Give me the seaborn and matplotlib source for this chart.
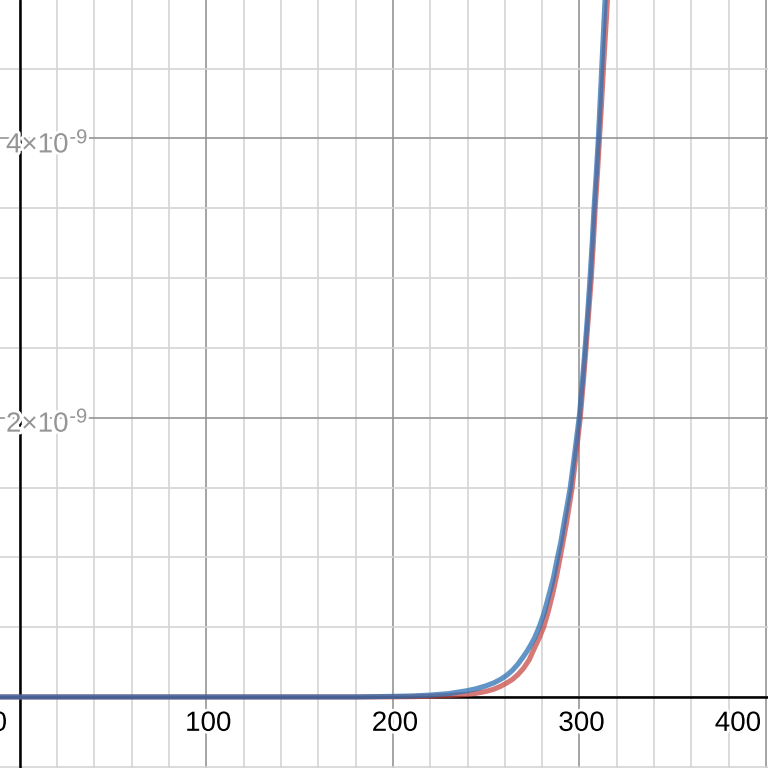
import matplotlib
matplotlib.use("Agg")
import matplotlib.pyplot as plt
import matplotlib.patheffects as pe
from matplotlib.ticker import MultipleLocator
import seaborn as sns
import pandas as pd

# values (y in units of 1e-9)
blue_x = [-12, 0, 100, 180, 200, 210, 220, 230, 240, 245, 250, 254, 258, 261,
          264, 267, 270, 272, 274, 276, 278.5, 281, 283.9, 286, 288.2, 290,
          291.7, 293.5, 295, 297, 299.9, 301.5, 303, 304.4, 305.7, 306.8,
          307.8, 309, 310.1, 311, 311.9, 312.8, 313.7, 314.6]
blue_y = [0, 0, 0, 0, 0.004, 0.007, 0.013, 0.024, 0.045, 0.06, 0.08, 0.1,
          0.128, 0.155, 0.19, 0.235, 0.29, 0.33, 0.375, 0.425, 0.504, 0.6,
          0.743, 0.85, 0.998, 1.11, 1.244, 1.38, 1.495, 1.7, 2.008, 2.25,
          2.498, 2.75, 3.01, 3.25, 3.5, 3.75, 4.0, 4.25, 4.5, 4.75, 4.99, 5.25]
red_x = [-12, 0, 100, 180, 200, 210, 220, 230, 240, 245, 250, 254, 258, 261,
         264, 267, 270, 273, 276.2, 278.5, 280.9, 283.3, 285.7, 287.7, 289.6,
         291.3, 293, 294.5, 296, 298.2, 300.4, 302, 303.5, 304.9, 306.3,
         307.4, 308.4, 309.6, 310.7, 311.8, 312.8, 313.9, 315, 315.8]
red_y = [0, 0, 0, 0, 0.001, 0.002, 0.005, 0.01, 0.018, 0.027, 0.04, 0.055,
         0.078, 0.1, 0.125, 0.16, 0.205, 0.265, 0.36, 0.425, 0.504, 0.615,
         0.743, 0.865, 0.998, 1.12, 1.244, 1.37, 1.495, 1.74, 2.0, 2.25, 2.5,
         2.75, 3.0, 3.25, 3.5, 3.75, 4.0, 4.25, 4.5, 4.75, 5.0, 5.2]
x_ticks = [0, 100, 200, 300, 400]
y_ticks = [2, 4]

blue = pd.DataFrame({"x": blue_x, "y": [v * 1e-9 for v in blue_y]})
red = pd.DataFrame({"x": red_x, "y": [v * 1e-9 for v in red_y]})

sns.set_style("white")
plt.rcParams["font.family"] = ["Liberation Sans", "DejaVu Sans"]

fig = plt.figure(figsize=(7.68, 7.68), dpi=100)
ax = fig.add_axes([0, 0, 1, 1])
ax.set_xlim(-10.5, 401)
ax.set_ylim(-0.509e-9, 4.992e-9)

ax.xaxis.set_major_locator(MultipleLocator(100))
ax.xaxis.set_minor_locator(MultipleLocator(20))
ax.yaxis.set_major_locator(MultipleLocator(2e-9))
ax.yaxis.set_minor_locator(MultipleLocator(0.5e-9))
ax.grid(which="minor", color="#d4d4d4", lw=1.2, zorder=0)
ax.grid(which="major", color="#959595", lw=1.2, zorder=0)
ax.tick_params(which="both", length=0, labelbottom=False, labelleft=False)
for s in ax.spines.values():
    s.set_visible(False)

ax.axhline(0, color="black", lw=1.8, zorder=2)
ax.axvline(0, color="black", lw=1.8, zorder=2)

sns.lineplot(data=red, x="x", y="y", sort=False, color="#c74440", alpha=0.72,
             lw=3.7, ax=ax, zorder=3, solid_capstyle="round",
             solid_joinstyle="round")
sns.lineplot(data=blue, x="x", y="y", sort=False, color="#2d70b3", alpha=0.75,
             lw=3.7, ax=ax, zorder=4, solid_capstyle="round",
             solid_joinstyle="round")
ax.set_xlabel("")
ax.set_ylabel("")

halo = [pe.withStroke(linewidth=4, foreground="white")]
for v in x_ticks:
    if v == 0:
        ax.annotate("0", (0, 0), xytext=(-9, -10), textcoords="offset points",
                    ha="right", va="top", fontsize=20, color="black",
                    path_effects=halo, zorder=5)
    elif v == 400:
        ax.annotate(str(v), (v, 0), xytext=(-3.5, -10), textcoords="offset points",
                    ha="right", va="top", fontsize=20, color="black",
                    path_effects=halo, zorder=5)
    else:
        ax.annotate(str(v), (v, 0), xytext=(1.5, -10), textcoords="offset points",
                    ha="center", va="top", fontsize=20, color="black",
                    path_effects=halo, zorder=5)

for v in y_ticks:
    base = ax.annotate("%d\u00d710" % v, (0, v * 1e-9),
                       xycoords=("axes fraction", "data"), xytext=(4.3, -5),
                       textcoords="offset points", ha="left", va="center",
                       fontsize=20, color="#959595", path_effects=halo, zorder=5)
    ax.annotate("-9", (1, 1), xycoords=base, xytext=(0.5, 3),
                textcoords="offset points", ha="left", va="top",
                fontsize=14.5, color="#959595", path_effects=halo, zorder=5)

fig.savefig("out.png", dpi=100)
